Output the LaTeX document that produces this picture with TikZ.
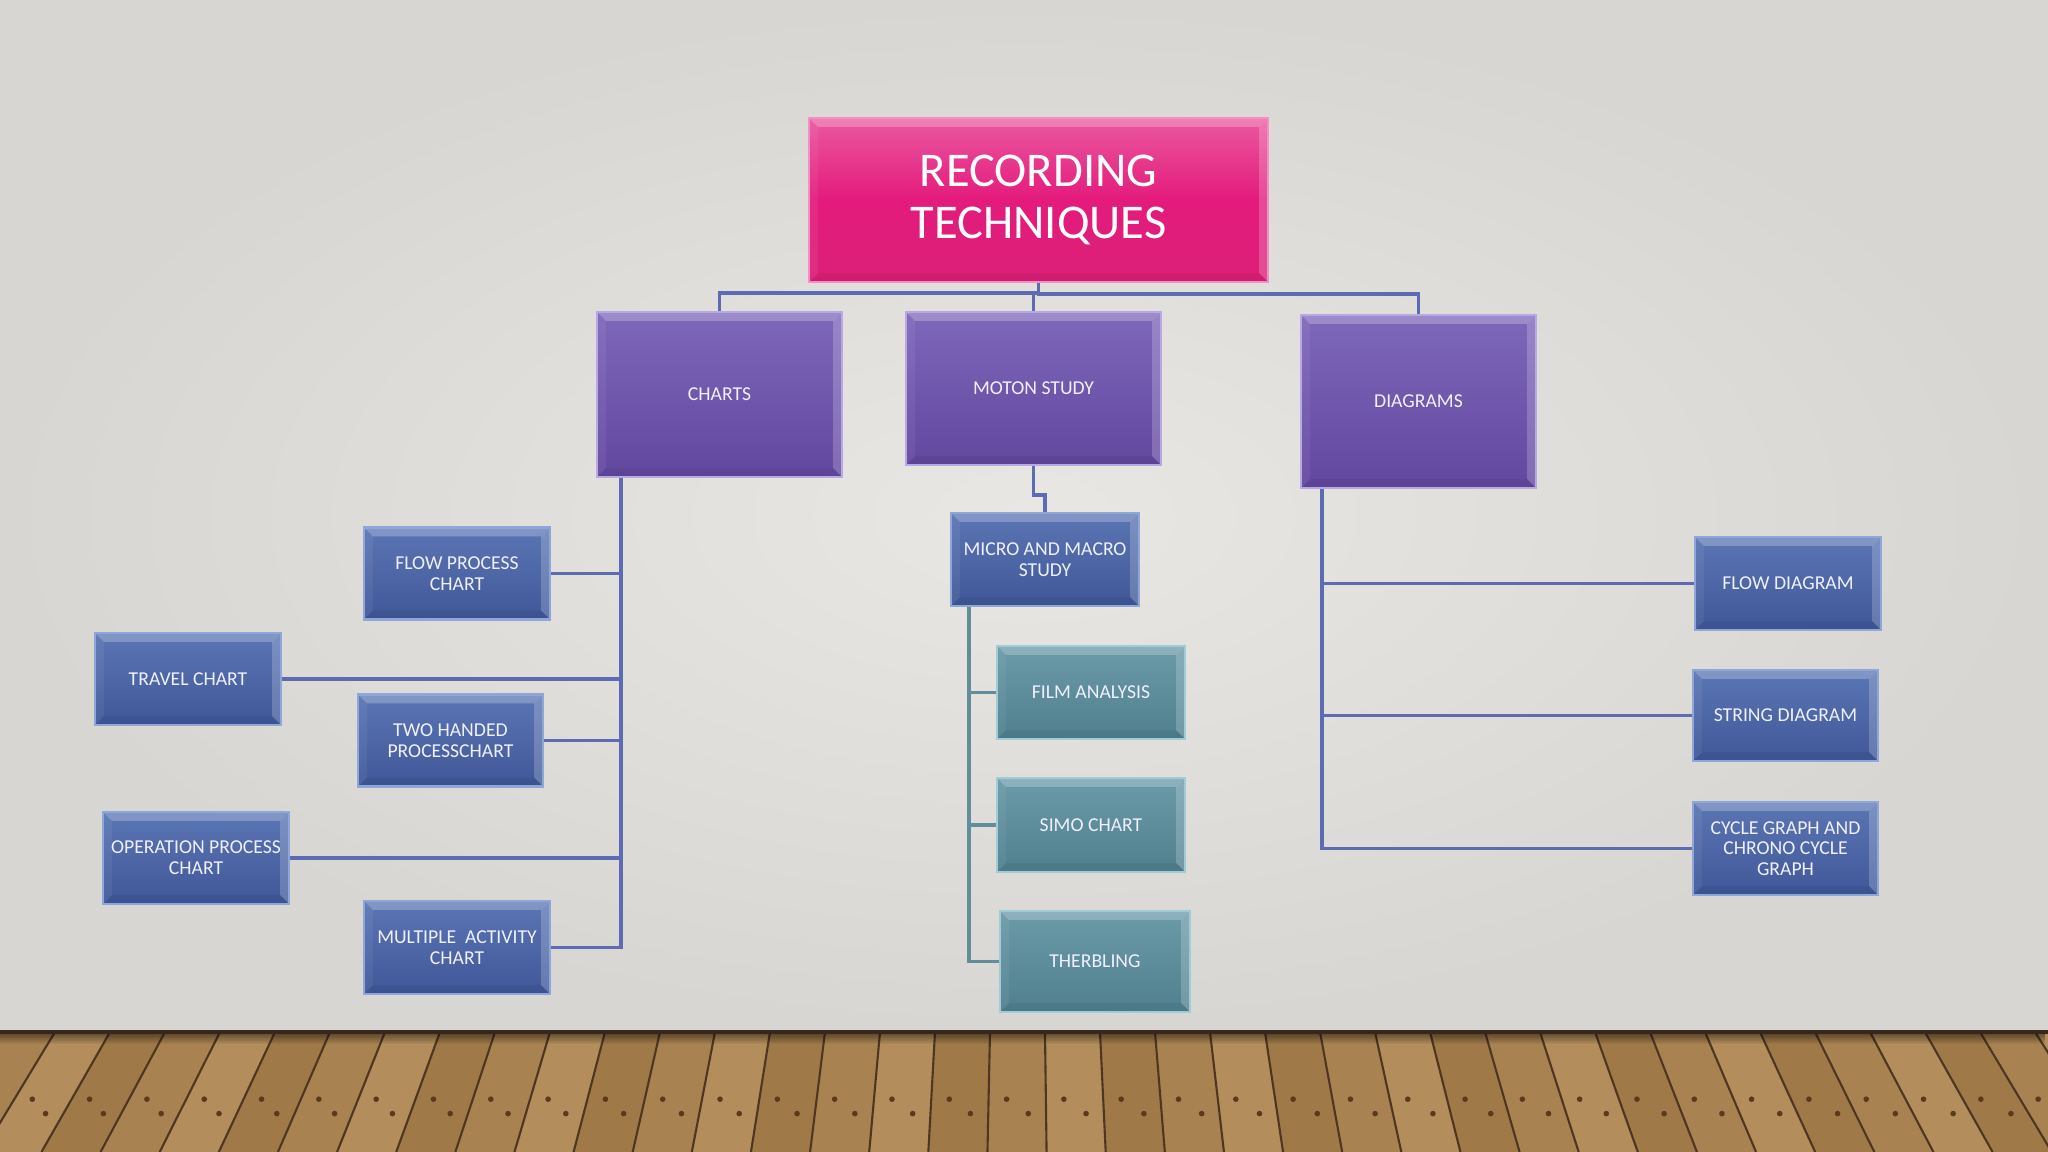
\documentclass[tikz,border=0pt]{standalone}
\usepackage{fontspec}
\setmainfont{Carlito}
\usetikzlibrary{calc,fadings}

\definecolor{wallA}{HTML}{E9E7E3}
\definecolor{wallB}{HTML}{D8D6D2}
\definecolor{pinkA}{HTML}{EA58A0}
\definecolor{pinkB}{HTML}{DB2079}
\definecolor{pinkC}{HTML}{E41B7C}
\definecolor{pinkedge}{HTML}{F38FC2}
\definecolor{purpA}{HTML}{7E68BA}
\definecolor{purpB}{HTML}{62479F}
\definecolor{purpedge}{HTML}{B8A8E4}
\definecolor{blueA}{HTML}{5B76B4}
\definecolor{blueB}{HTML}{405798}
\definecolor{blueedge}{HTML}{8FA6D8}
\definecolor{tealA}{HTML}{6B9AA8}
\definecolor{tealB}{HTML}{507F8E}
\definecolor{tealedge}{HTML}{A0CCD6}
\definecolor{linkblue}{HTML}{5D6BB2}
\definecolor{linkteal}{HTML}{628E9B}
\definecolor{plank0}{HTML}{A98251}
\definecolor{plank1}{HTML}{B38D5B}
\definecolor{plank2}{HTML}{A07949}
\definecolor{seamcol}{HTML}{4E3722}
\definecolor{nailcol}{HTML}{5A3A1E}

\begin{document}
\begin{tikzpicture}[
  bevel/.style={path picture={
    \path (path picture bounding box.north west) coordinate (bnw)
          (path picture bounding box.south east) coordinate (bse);
    \fill[white,opacity=.24] (bnw) -- (bnw -| bse) -- ([shift={(-2.5pt,-2.5pt)}]bnw -| bse)
      -- ([shift={(2.5pt,-2.5pt)}]bnw) -- cycle;
    \fill[white,opacity=.2] (bnw -| bse) -- (bse) -- ([shift={(-2.5pt,2.5pt)}]bse)
      -- ([shift={(-2.5pt,-2.5pt)}]bnw -| bse) -- cycle;
    \fill[black,opacity=.05] (bse) -- (bse -| bnw) -- ([shift={(2.5pt,2.5pt)}]bse -| bnw)
      -- ([shift={(-2.5pt,2.5pt)}]bse) -- cycle;
    \fill[white,opacity=.06] (bnw) -- (bse -| bnw) -- ([shift={(2.5pt,2.5pt)}]bse -| bnw)
      -- ([shift={(2.5pt,-2.5pt)}]bnw) -- cycle;
  }},
  box/.style={rectangle, draw=#1, line width=0.7pt, inner sep=1pt, align=center,
    text=white!94!blue, font={\fontsize{5.6}{5.9}\selectfont}, bevel},
  pinkbox/.style={box=pinkedge, top color=pinkA, bottom color=pinkB, middle color=pinkC,
    text=white, font={\fontsize{13.8}{14.6}\selectfont}},
  purplebox/.style={box=purpedge, top color=purpA, bottom color=purpB},
  bluebox/.style={box=blueedge, top color=blueA, bottom color=blueB,
    minimum width=1.86cm, minimum height=0.92cm},
  tealbox/.style={box=tealedge, top color=tealA, bottom color=tealB,
    minimum width=1.88cm, minimum height=0.93cm},
  link/.style={draw=linkblue, line width=1.1pt},
  tlink/.style={draw=linkteal, line width=1.1pt},
  seam/.style={draw=seamcol, line width=0.6pt},
  nail/.style={fill=nailcol}
]
\useasboundingbox (0,0) rectangle (20.48,-11.52);

% wall and floor
\shade[inner color=wallA, outer color=wallB] (0,0) rectangle (20.48,-10.32);
\begin{scope}
  \clip (0,-10.32) rectangle (20.48,-11.52);
  \foreach \i in {-3,...,40}{
    \pgfmathsetmacro\xa{\i*0.55}
    \pgfmathsetmacro\xb{\xa+0.55}
    \pgfmathsetmacro\xc{10.24+(\xa-10.24)*1.075}
    \pgfmathsetmacro\xd{10.24+(\xb-10.24)*1.075}
    \pgfmathtruncatemacro\k{mod(\i+9,3)}
    \fill[plank\k] (\xa,-10.32) -- (\xb,-10.32) -- (\xd,-11.52) -- (\xc,-11.52) -- cycle;
    \draw[seam] (\xa,-10.32) -- (\xc,-11.52);
    \fill[nail] ($(\xa,-10.32)!0.56!(\xc,-11.52)+(0.18,0)$) circle (0.8pt);
    \fill[nail] ($(\xa,-10.32)!0.68!(\xc,-11.52)+(0.40,0)$) circle (0.8pt);
  }
  \fill[black,opacity=.5,path fading=south] (0,-10.32) rectangle (20.48,-10.44);
\end{scope}
\draw[seamcol!70!black, line width=1pt] (0,-10.32) -- (20.48,-10.32);

% boxes
\node[pinkbox, minimum width=4.59cm, minimum height=1.64cm] (root) at (10.385,-2.00) {RECORDING\\TECHNIQUES};

\node[purplebox, minimum width=2.45cm, minimum height=1.65cm] (charts) at (7.195,-3.945) {CHARTS};
\node[purplebox, minimum width=2.55cm, minimum height=1.53cm] (moton) at (10.335,-3.885) {MOTON STUDY};
\node[purplebox, minimum width=2.35cm, minimum height=1.73cm] (diagrams) at (14.185,-4.015) {DIAGRAMS};

\node[bluebox, minimum width=1.88cm, minimum height=0.93cm] (micro) at (10.45,-5.595) {MICRO AND MACRO\\STUDY};

\node[bluebox] (flowproc) at (4.57,-5.735) {FLOW PROCESS\\CHART};
\node[bluebox] (travel) at (1.88,-6.79) {TRAVEL CHART};
\node[bluebox, minimum width=1.85cm] (twohand) at (4.505,-7.405) {TWO HANDED\\PROCESSCHART};
\node[bluebox] (operation) at (1.96,-8.58) {OPERATION PROCESS\\CHART};
\node[bluebox, minimum height=0.93cm] (multiple) at (4.57,-9.475) {MULTIPLE\ \ ACTIVITY\\CHART};

\node[tealbox] (film) at (10.91,-6.925) {FILM ANALYSIS};
\node[tealbox, minimum height=0.94cm] (simo) at (10.91,-8.25) {SIMO CHART};
\node[tealbox, minimum width=1.90cm, minimum height=1.01cm] (therb) at (10.95,-9.615) {THERBLING};

\node[bluebox, minimum height=0.93cm] (flowdiag) at (17.88,-5.835) {FLOW DIAGRAM};
\node[bluebox, minimum width=1.85cm, minimum height=0.91cm] (string) at (17.855,-7.155) {STRING DIAGRAM};
\node[bluebox, minimum width=1.85cm, minimum height=0.93cm] (cyclegraph) at (17.855,-8.485) {CYCLE GRAPH AND\\CHRONO CYCLE\\GRAPH};

% connectors
\draw[link] (root.south) -- ++(0,-0.10) -| (charts.north);
\draw[link] (root.south) -- ++(0,-0.10) -| (moton.north);
\draw[link] (root.south) -- ++(0,-0.11) -| (diagrams.north);
\draw[link] (moton.south) -- ++(0,-0.29) -| (micro.north);

\coordinate (cstem) at ([xshift=0.25cm]charts.south west);
\foreach \n in {flowproc,travel,twohand,operation,multiple}
  \draw[link] (cstem) |- (\n.east);

\coordinate (mstem) at ([xshift=0.19cm]micro.south west);
\foreach \n in {film,simo,therb}
  \draw[tlink] (mstem) |- (\n.west);

\coordinate (dstem) at ([xshift=0.22cm]diagrams.south west);
\foreach \n in {flowdiag,string,cyclegraph}
  \draw[link] (dstem) |- (\n.west);
\end{tikzpicture}
\end{document}
